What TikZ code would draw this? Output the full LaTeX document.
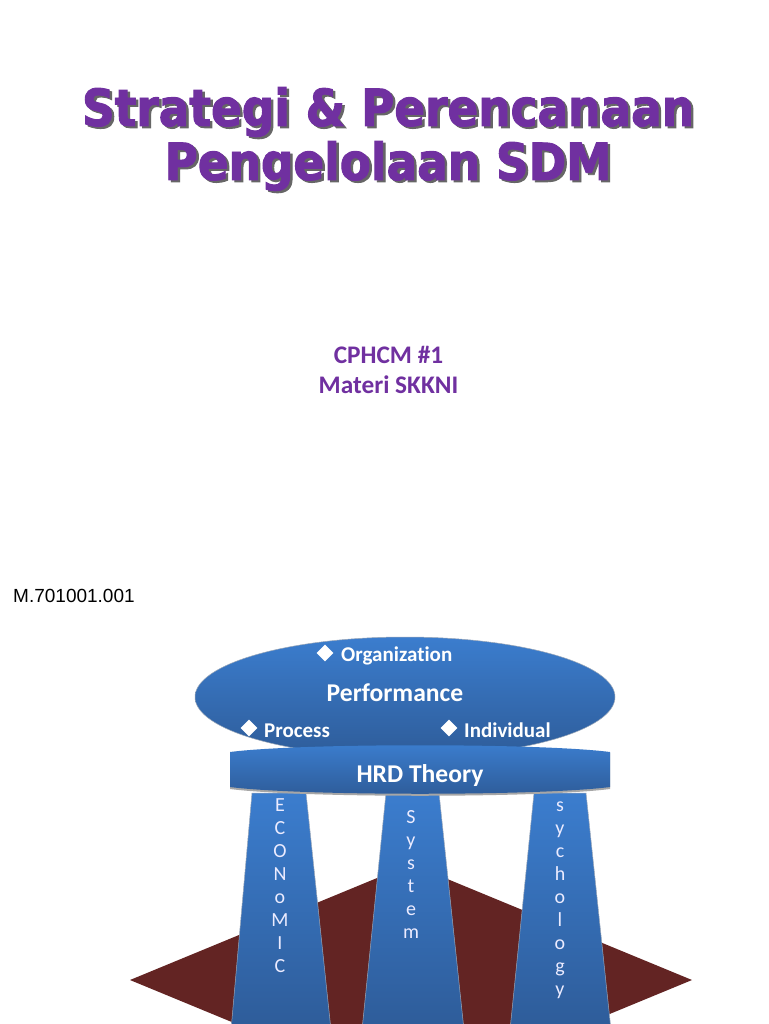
\documentclass[tikz,border=0pt]{standalone}
\usepackage{fontspec}
\usetikzlibrary{shapes.geometric}
\setmainfont{Carlito}[Ligatures=NoCommon]
\newfontfamily\titlefont{DejaVu Sans}[FakeStretch=0.89,FakeBold=1.8]
\newfontfamily\arialfont{Liberation Sans}
\definecolor{purp}{HTML}{7030A0}
\definecolor{blueT}{HTML}{3B7DCE}
\definecolor{blueB}{HTML}{2E5C99}
\definecolor{maroon}{HTML}{632423}
\definecolor{edgeG}{HTML}{9AA7B8}
\tikzset{
  bluebody/.style={top color=blueT,bottom color=blueB,draw=edgeG,line width=0.5pt},
  titletext/.style={font=\titlefont\bfseries\fontsize{51}{54}\selectfont,align=center,text=purp},
  titleshadow/.style={font=\titlefont\bfseries\fontsize{51}{54}\selectfont,align=center,text=black!60},
  lbl/.style={text=white,font=\bfseries\fontsize{21}{23}\selectfont,anchor=base west,inner sep=0pt},
  bigl/.style={text=white,font=\bfseries\fontsize{25.6}{28}\selectfont,anchor=base,inner sep=0pt},
  stack/.style={text=white!92!blue,font=\fontsize{20}{23}\selectfont,align=center,anchor=north,inner sep=0pt},
  bullet/.style={diamond,fill=white,inner sep=0pt,minimum width=17pt,minimum height=17pt}
}
\begin{document}
\begin{tikzpicture}[x=1pt,y=-1pt]
\useasboundingbox[fill=white] (0,0) rectangle (768,1024);
% title
\node[titleshadow] (titleS) at (390.5,141) {Strategi \& Perencanaan\\Pengelolaan SDM};
\node[titletext] (title) at (388,139) {Strategi \& Perencanaan\\Pengelolaan SDM};
% subtitle
\node[text=purp,font=\bfseries\fontsize{25.3}{30}\selectfont,align=center,inner sep=0pt] (sub) at (388.5,370) {CPHCM \#1\\Materi SKKNI};
\node[font=\arialfont\fontsize{19}{20}\selectfont,anchor=base west,inner sep=0pt] (code) at (13,602) {M.701001.001};
% ground diamond
\fill[maroon] (130,980) -- (411,864) -- (692,980) -- (411,1096) -- cycle;
% pillars
\shade[bluebody] (252,793) -- (306,793) -- (331,1030) -- (231,1030) -- cycle;
\shade[bluebody] (386,793) -- (439,793) -- (464,1030) -- (362,1030) -- cycle;
\shade[bluebody] (534,793) -- (586,793) -- (611,1030) -- (510,1030) -- cycle;
% ellipse
\shade[bluebody] (405,697) ellipse [x radius=210,y radius=60];
% bar
\fill[black!35] (230,753) .. controls (300,745) and (540,745) .. (610,753) -- (610,789) .. controls (540,798) and (300,798) .. (230,789) -- cycle;
\shade[top color=blueT,bottom color=blueB] (230,752) .. controls (300,743) and (540,743) .. (610,752) -- (610,787) .. controls (540,796) and (300,796) .. (230,787) -- cycle;
% labels
\node[bullet] (b1) at (325,653) {};
\node[lbl] (org) at (341,661) {Organization};
\node[bigl] (perf) at (395,701) {Performance};
\node[bullet] (b2) at (249,728) {};
\node[lbl] (proc) at (264,737) {Process};
\node[bullet] (b3) at (449,728) {};
\node[lbl] (ind) at (464,737) {Individual};
\node[bigl] (hrd) at (420,782) {HRD Theory};
\node[stack] (eco) at (280,798) {E\\C\\O\\N\\o\\M\\I\\C};
\node[stack] (sys) at (411,810) {S\\y\\s\\t\\e\\m};
\node[stack] (psy) at (560,802) {s\\y\\c\\h\\o\\l\\o\\g\\y};
\end{tikzpicture}
\end{document}
